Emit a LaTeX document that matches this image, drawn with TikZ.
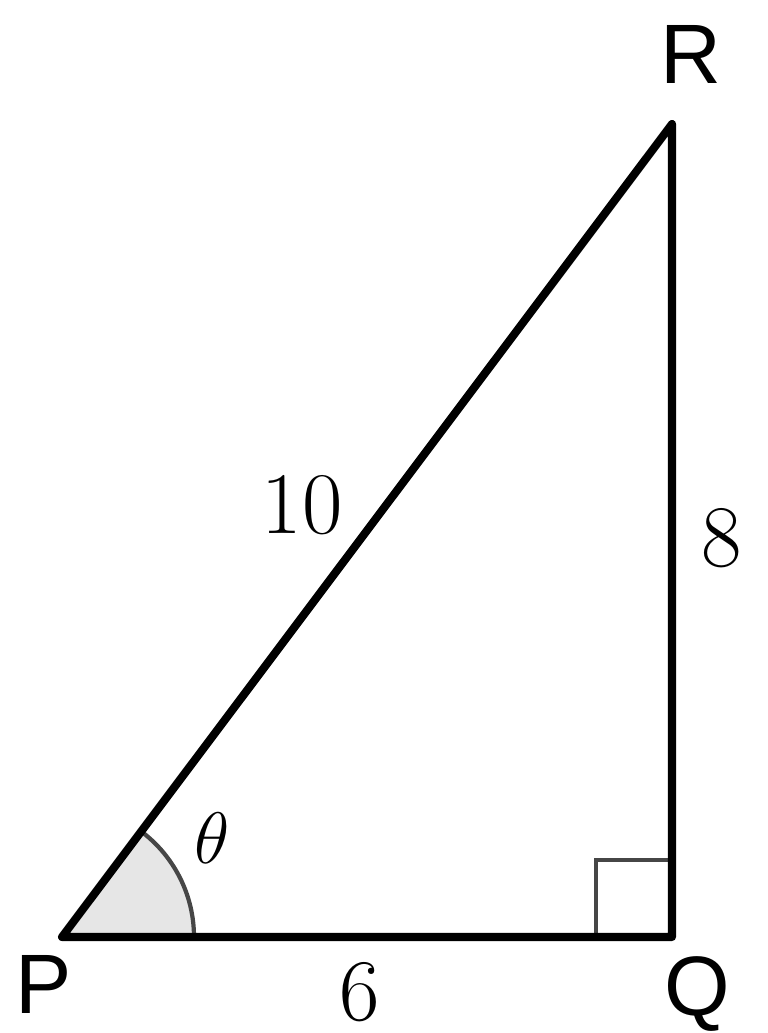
\documentclass[tikz,border=0pt]{standalone}
\usepackage{fontspec}
\newfontfamily\vertexfont{Liberation Sans}
\usepackage{tikz}
\usetikzlibrary{calc}
\definecolor{wedgegray}{HTML}{E6E6E6}
\definecolor{markgray}{HTML}{464646}

\begin{document}
\begin{tikzpicture}[
    edge/.style={line width=2.3pt, line join=round, line cap=round},
    vertex/.style={anchor=base, inner sep=0pt, font=\vertexfont\fontsize{24}{28}\selectfont},
    side/.style={anchor=base, inner sep=0pt, font=\fontsize{25}{30}\selectfont},
    anglemark/.style={draw=markgray, line width=1.2pt},
    rightmark/.style={draw=markgray, line width=1.3pt}
]
\useasboundingbox (0,0) rectangle (7.68,10.33);

\coordinate (P) at (0.62,0.96);
\coordinate (Q) at (6.72,0.96);
\coordinate (R) at (6.72,9.09);

% angle at P
\fill[wedgegray] (P) -- ++(0:1.32) arc (0:53.13:1.32) -- cycle;
\draw[anglemark] ([shift={(0:1.32)}]P) arc (0:53.13:1.32);

% right angle at Q
\draw[rightmark] ([xshift=-0.76cm]Q) -- ++(0,0.77) -- ++(0.76,0);

\draw[edge] (P) -- (Q) -- (R) -- cycle;

\node[vertex] (labelP) at (0.44,0.20) {P};
\node[vertex] (labelQ) at (6.97,0.18) {Q};
\node[vertex] (labelR) at (6.91,9.49) {R};

\node[side] (hyp) at (3.02,4.99) {10};
\node[side] (opp) at (7.22,4.66) {8};
\node[side] (adj) at (3.60,0.13) {6};
\node[anchor=base, inner sep=0pt, font=\fontsize{20}{24}\selectfont] (theta) at (2.12,1.70) {$\theta$};

\end{tikzpicture}
\end{document}
